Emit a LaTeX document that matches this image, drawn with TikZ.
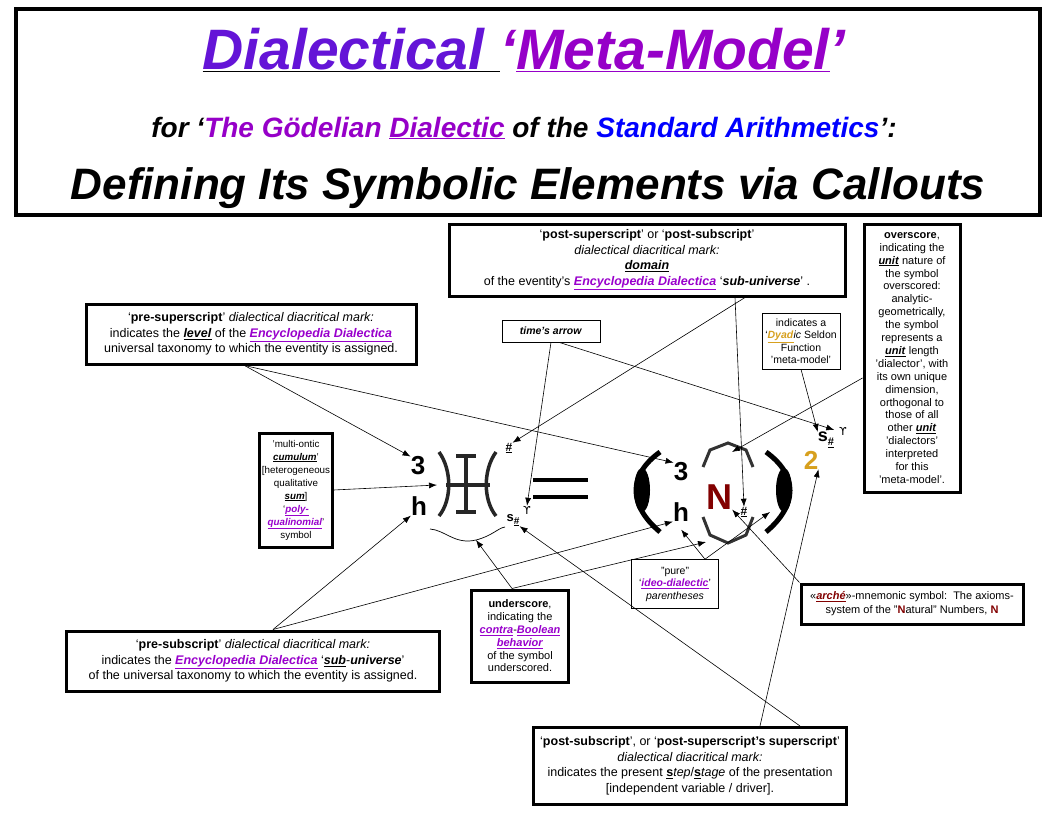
\documentclass[tikz,border=0pt]{standalone}
\usepackage{fontspec}
\setmainfont{Liberation Sans}
\newfontfamily\dejavu{DejaVu Sans}
\usetikzlibrary{arrows.meta,calc}
\definecolor{lnk}{RGB}{153,0,204}
\definecolor{tblue}{RGB}{100,20,215}
\definecolor{tpurp}{RGB}{150,0,200}
\definecolor{nred}{RGB}{130,0,0}
\definecolor{gold}{RGB}{215,160,30}
\newcommand{\lk}[1]{\textcolor{lnk}{\underline{\textbf{\textit{#1}}}}}
\newcommand{\ub}[1]{\underline{\textbf{\textit{#1}}}}
\newcommand{\hk}{{\dejavu ϒ}}
\tikzset{
 thickbox/.style={draw,line width=3pt,fill=white,align=center,inner sep=2pt,font=\fontsize{12.5}{15.5}\selectfont},
 thinbox/.style={draw,line width=0.6pt,fill=white,align=center,inner sep=2pt,font=\fontsize{10.5}{12.5}\selectfont},
 arr/.style={-{Latex[length=8pt,width=6pt]},line width=0.6pt},
 sym/.style={font=\fontsize{26}{26}\selectfont\bfseries,inner sep=0pt}
}
\begin{document}
\begin{tikzpicture}[x=1pt,y=-1pt]
\useasboundingbox (0,0) rectangle (1056,816);
\fill[white] (0,0) rectangle (1056,816);
% title
\draw[line width=3.5pt] (16,9) rectangle (1040,215);
\node at (524,50) {\fontsize{57}{57}\selectfont\bfseries\itshape\underline{\textcolor{tblue}{Dialectical }}\textcolor{tpurp}{‘\underline{Meta-Model}’}};
\node at (524,128) {\fontsize{28}{28}\selectfont\bfseries\itshape for ‘\textcolor{tpurp}{The Gödelian \underline{Dialectic}} of the \textcolor{blue}{Standard Arithmetics}’:};
\node at (528,188) {\fontsize{44}{44}\selectfont\bfseries\itshape Defining Its Symbolic Elements via Callouts};

% boxes
\node[thickbox,minimum width=396,minimum height=72] (post) at (647,260) {‘\textbf{post-superscript}’ or ‘\textbf{post-subscript}’\\ \textit{dialectical diacritical mark:}\\ \ub{domain}\\ of the eventity's \lk{Encyclopedia Dialectica} ‘\textbf{\textit{sub-universe}}’ .};
\node[thickbox,minimum width=330,minimum height=60] (pres) at (251,334) {‘\textbf{pre-superscript}’ \textit{dialectical diacritical mark:}\\ indicates the \ub{level} of the \lk{Encyclopedia Dialectica}\\ universal taxonomy to which the eventity is assigned.};
\node[thinbox,minimum width=98,minimum height=22] (time) at (551,331) {\textbf{\textit{time's arrow}}};
\node[thinbox,minimum width=78,minimum height=56] (dyad) at (801,341) {indicates a\\ ‘\textcolor{gold}{\ub{Dyad}}\textit{ic} Seldon\\ Function\\ 'meta-model'};
\node[thickbox,minimum width=96,minimum height=268,font=\fontsize{11}{12.9}\selectfont] (over) at (912,358) {\textbf{overscore},\\ indicating the\\ \ub{unit} nature of\\ the symbol\\ overscored:\\ analytic-\\ geometrically,\\ the symbol\\ represents a\\ \ub{unit} length\\ 'dialector', with\\ its own unique\\ dimension,\\ orthogonal to\\ those of all\\ other \ub{unit}\\ 'dialectors'\\ interpreted\\ for this\\ 'meta-model'.};
\node[thickbox,minimum width=72,minimum height=114,font=\fontsize{9.8}{13}\selectfont] (multi) at (296,490) {'multi-ontic\\ \ub{cumulum}'\\ {[heterogeneous}\\ qualitative\\ \ub{sum}]\\ ‘\textcolor{lnk}{\ub{poly-}}\\ \textcolor{lnk}{\ub{qualinomial}}’\\ symbol};
\node[thickbox,minimum width=373,minimum height=60] (presub) at (253,661) {‘\textbf{pre-subscript}’ \textit{dialectical diacritical mark:}\\ indicates the \lk{Encyclopedia Dialectica} ‘\ub{sub}-\textbf{\textit{universe}}’\\ of the universal taxonomy to which the eventity is assigned.};
\node[thickbox,minimum width=97,minimum height=92,font=\fontsize{11}{12.8}\selectfont] (under) at (520,636) {\textbf{underscore},\\ indicating the\\ \lk{contra}-\lk{Boolean}\\ \lk{behavior}\\ of the symbol\\ underscored.};
\node[thinbox,minimum width=87,minimum height=49] (pure) at (675,584) {"pure"\\ ‘\lk{ideo-dialectic}’\\ \textit{parentheses}};
\node[thickbox,minimum width=222,minimum height=40,font=\fontsize{11}{14}\selectfont] (arche) at (912,604) {«\textcolor{nred}{\ub{arché}}»-mnemonic symbol:\ \ The axioms-\\ system of the "\textcolor{nred}{\textbf{N}}atural" Numbers, \textcolor{nred}{\textbf{N}}};
\node[thickbox,minimum width=313,minimum height=77] (postsub) at (690,766) {‘\textbf{post-subscript}’, or ‘\textbf{post-superscript's superscript}’\\ \textit{dialectical diacritical mark:}\\ indicates the present \underline{\textbf{s}}\textit{tep}/\underline{\textbf{s}}\textit{tage} of the presentation\\ {[independent variable / driver].}};

% left symbol
\node[sym] (L3) at (418,466) {3};
\node[sym] (Lh) at (419,506) {h};
\begin{scope}[line width=3.5pt,black!85]
\draw (439,452) .. controls (452,470) and (452,500) .. (439,516);
\draw (496,452) .. controls (483,470) and (483,500) .. (496,516);
\draw (466,456) -- (466,512);
\draw (456,456) -- (476,456) (456,512) -- (476,512);
\draw (446,485) -- (490,485);
\end{scope}
\coordinate (Hl) at (437,485);
\node[font=\fontsize{12}{12}\selectfont\bfseries,inner sep=0pt] (Lhash) at (509,448) {\underline{\#}};
\node[font=\fontsize{13}{13}\selectfont\bfseries,inner sep=0pt] (Ls) at (513,520) {s\raisebox{-3pt}{\fontsize{10}{10}\selectfont\underline{\#}}};
\node[font=\fontsize{11}{11}\selectfont,inner sep=0pt] (Lhk) at (527,510) {\hk};
\draw[line width=0.7pt] (430,529) .. controls (445,530) and (455,545) .. (476,540) .. controls (492,536) and (498,528) .. (505,527);
\coordinate (wave) at (476,540);
\draw[line width=4pt] (533,480) -- (588,480) (533,497) -- (588,497);

% right symbol
\begin{scope}[line width=5pt]
\draw (660,452) .. controls (628,475) and (628,505) .. (660,532);
\draw (766,452) .. controls (798,475) and (798,505) .. (766,532);
\end{scope}
\fill (642,490) ellipse (8 and 22);
\fill (784,490) ellipse (8 and 22);
\node[sym] (R3) at (681,472) {3};
\node[sym] (Rh) at (681,512) {h};
\node[font=\fontsize{36}{36}\selectfont\bfseries,text=nred,inner sep=0pt] (N) at (719,497) {N};
\draw[line width=3pt,black!80] (703,467) -- (710,450) -- (728,443) -- (746,450) -- (753,467);
\draw[line width=3pt,black!80] (703,517) -- (710,535) -- (728,543) -- (746,535) -- (753,517);
\coordinate (topArc) at (732,452);
\coordinate (botArc) at (706,542);
\node[font=\fontsize{12}{12}\selectfont\bfseries,inner sep=0pt] (Rhash) at (744,512) {\underline{\#}};
\node[font=\fontsize{18}{18}\selectfont\bfseries,inner sep=0pt] (Rs) at (826,440) {s\raisebox{-4pt}{\fontsize{11}{11}\selectfont\underline{\#}}};
\node[font=\fontsize{11}{11}\selectfont,inner sep=0pt] (Rhk) at (843,431) {\hk};
\node[font=\fontsize{26}{26}\selectfont\bfseries,text=gold,inner sep=0pt] (two) at (811,460) {2};
\coordinate (Rparen) at (770,512);

% arrows
\coordinate (pa) at ($(pres.south west)+(160,0)$);
\draw[arr] (pa) -- (L3.north west);
\draw[arr] (pa) -- (R3.north west);
\draw[arr] ($(post.south)+(98,0)$) -- (Lhash.north east);
\draw[arr] ($(post.south)+(88,0)$) -- (Rhash.north);
\draw[arr] (time.south) -- (Lhk.north);
\draw[arr] ($(time.south)+(8,0)$) -- ($(Rs.north east)+(0,-2)$);
\draw[arr] (dyad.south) -- (Rs.north west);
\draw[arr] ($(over.west)+(0,20)$) -- (topArc);
\draw[arr] (multi.east) -- (Hl);
\draw[arr] ($(presub.north)+(20,0)$) -- (Lh.south west);
\draw[arr] ($(presub.north)+(20,0)$) -- (Rh.south west);
\draw[arr] ($(under.north)+(-8,0)$) -- (wave);
\draw[arr] ($(under.north)+(-8,0)$) -- (botArc);
\draw[arr] ($(pure.north)+(30,0)$) -- ($(Rh.south east)+(-8,8)$);
\draw[arr] ($(pure.north)+(30,0)$) -- (Rparen);
\draw[arr] (arche.north west) -- (N.south east);
\draw[arr] ($(postsub.north)+(110,0)$) -- (Ls.south east);
\draw[arr] ($(postsub.north)+(70,0)$) -- (two.south east);
\end{tikzpicture}
\end{document}
